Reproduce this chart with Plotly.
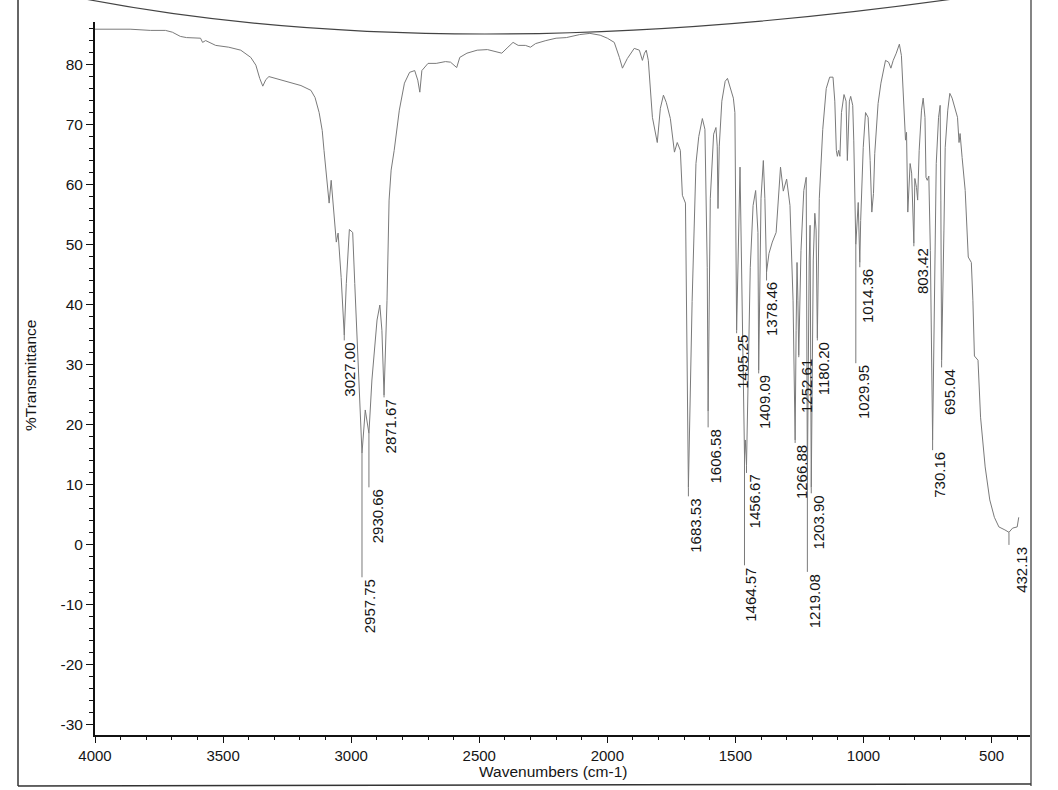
import plotly.graph_objects as go

# ---------------- data ----------------
wavenumber = [
    4000, 3863, 3784, 3725, 3698, 3667, 3643, 3608, 3588, 3580, 3568, 3529, 3478, 3431,
    3392, 3372, 3357, 3345, 3333, 3321, 3294, 3235, 3196, 3157, 3141, 3125, 3113, 3106,
    3086, 3078, 3066, 3058, 3051, 3039, 3027.00, 3019, 3007, 2994, 2986, 2970, 2957.75,
    2945, 2930.66, 2919, 2899, 2888, 2880, 2871.67, 2860, 2852, 2844, 2832, 2812, 2792,
    2772, 2752, 2740, 2732, 2724, 2700, 2668, 2632, 2612, 2588, 2576, 2548, 2508, 2468,
    2412, 2388, 2368, 2348, 2320, 2300, 2280, 2240, 2200, 2160, 2108, 2068, 2028, 2000,
    1973, 1953, 1941, 1922, 1895, 1875, 1863, 1855, 1848, 1840, 1824, 1805, 1793, 1781,
    1770, 1754, 1738, 1727, 1715, 1707, 1695, 1683.53, 1669, 1654, 1643, 1629, 1619,
    1610, 1606.58, 1598, 1585, 1576, 1571, 1568, 1563, 1553, 1540, 1531, 1521, 1508,
    1502, 1495.25, 1482, 1464.57, 1461.5, 1456.67, 1442, 1431, 1421, 1412, 1409.09,
    1400, 1391, 1385, 1378.46, 1369, 1356, 1341, 1324, 1313, 1300, 1287, 1275, 1266.88,
    1263, 1259.5, 1256, 1252.61, 1244, 1233, 1223.6, 1219.08, 1212, 1208.5, 1203.90,
    1196, 1190, 1185, 1180.20, 1172.5, 1159, 1145.5, 1132, 1119, 1112, 1106, 1102, 1097,
    1092, 1086, 1076, 1068, 1063, 1055, 1050, 1042, 1038, 1034, 1029.95, 1020.6, 1014.36,
    1011, 1001, 992, 982, 974, 967.5, 961, 956, 943, 932, 914, 902, 893, 884, 872, 860,
    852, 842, 836, 832, 827, 818, 812, 803.42, 799.5, 793, 788.5, 782.6, 773.5, 767, 760,
    756, 751, 745, 739, 730.16, 724, 716, 707, 700.7, 698, 695.04, 686, 681, 671, 663,
    654, 645, 633, 627, 623, 615, 603, 591, 579, 573, 567, 553, 543, 525, 507, 489,
    471.5, 448, 432.13, 418, 400, 394,
]
transmittance = [
    85.9, 85.9, 85.7, 85.7, 85.4, 84.7, 84.5, 84.5, 84.4, 83.7, 84.0, 83.2, 82.9, 82.4,
    81.2, 79.9, 77.7, 76.4, 77.5, 78.0, 77.7, 77.0, 76.5, 75.7, 74.5, 72.0, 69.0, 65.7,
    56.9, 60.7, 54.5, 50.4, 51.9, 44.5, 34.9, 43.5, 52.5, 52.0, 43.5, 26.9, 15.2,
    22.4, 18.5, 27.4, 37.4, 39.9, 35.7, 24.9, 40.7, 57.4, 62.4, 65.7, 72.4, 76.9,
    78.7, 79.0, 77.4, 75.4, 79.0, 80.2, 80.2, 80.5, 80.4, 79.5, 81.2, 81.9, 82.4, 82.5,
    81.9, 82.9, 83.7, 83.2, 83.2, 82.9, 83.5, 84.0, 84.4, 84.5, 85.0, 85.2, 84.9, 84.4,
    83.7, 81.2, 79.4, 81.0, 82.7, 82.4, 80.7, 81.9, 82.4, 80.7, 71.2, 67.0, 72.7, 74.9,
    73.7, 71.0, 65.4, 67.0, 65.7, 58.2, 56.9, 9.5, 40.5, 63.5, 68.0, 71.0, 69.2,
    46.2, 22.2, 57.7, 68.4, 69.5, 66.4, 56.0, 66.4, 73.9, 77.2, 77.7, 76.1, 74.4,
    72.0, 35.7, 62.9, 14.9, 17.4, 13.2, 46.2, 56.5, 59.0, 52.0, 29.0,
    57.7, 64.0, 57.7, 45.4, 48.5, 50.4, 52.0, 62.9, 58.9, 60.9, 56.5, 40.7, 17.4,
    35.7, 47.0, 40.7, 31.5, 49.0, 59.0, 61.2, 10.7, 47.4, 53.2, 9.5,
    47.4, 55.2, 52.4, 34.4, 57.7, 69.2, 76.0, 77.9, 77.9, 73.9, 65.7, 64.7, 65.7,
    64.7, 72.0, 75.0, 73.9, 64.0, 73.9, 74.7, 73.2, 67.4, 57.4, 50.0, 57.0, 47.0,
    54.0, 66.2, 72.0, 71.2, 64.0, 55.4, 58.5, 65.2, 73.5, 76.9, 80.7, 80.4, 79.4, 80.7, 81.9, 83.4,
    81.5, 71.9, 67.4, 68.7, 55.4, 63.5, 61.9, 50.2, 61.0, 59.5, 57.4, 65.7, 72.4, 74.4, 71.2,
    61.2, 60.7, 61.4, 49.0, 17.4, 40.7, 63.5, 71.2, 73.2, 57.4, 30.7, 52.4, 66.2, 72.4, 75.2,
    74.4, 73.2, 71.2, 67.0, 68.5, 64.5, 59.0, 47.9, 47.0, 40.7, 31.4, 30.7, 21.2, 12.9, 7.4, 4.5,
    2.9, 2.4, 2.0, 2.7, 2.9, 4.5,
]

peak_wn = [3027.00, 2957.75, 2930.66, 2871.67, 1683.53, 1606.58, 1495.25, 1464.57,
           1456.67, 1409.09, 1378.46, 1266.88, 1252.61, 1219.08, 1203.90, 1180.20,
           1029.95, 1014.36, 803.42, 730.16, 695.04, 432.13]
peak_labels = ["3027.00", "2957.75", "2930.66", "2871.67", "1683.53", "1606.58",
               "1495.25", "1464.57", "1456.67", "1409.09", "1378.46", "1266.88",
               "1252.61", "1219.08", "1203.90", "1180.20", "1029.95", "1014.36",
               "803.42", "730.16", "695.04", "432.13"]
# %T at which each label's upper end sits (label placement)
label_top = [34.0, -5.5, 9.5, 24.5, 8.0, 19.5, 35.2, -3.5, 11.9, 28.5, 44.0, 16.9,
             31.2, -4.6, 8.5, 34.0, 30.2, 46.2, 49.7, 15.7, 29.5, -0.1]
# horizontal pixel offset of each label from its leader line (label placement)
label_dx = [5, 7, 8, 6, 7, 7, 6, 6, 8, 6, 5, 7, 7, 8, 7, 7, 7, 7, 8, 7, 8, 13]

x_ticks = [4000, 3500, 3000, 2500, 2000, 1500, 1000, 500]
y_ticks = [80, 70, 60, 50, 40, 30, 20, 10, 0, -10, -20, -30]

# ---------------- layout constants ----------------
W, H = 1058, 790
L, R, T, B = 95, 1030, 22, 735
X_RANGE = [4000, 350]
Y_RANGE = [-31.8, 87.1]
FONT = "Liberation Sans, Arial, sans-serif"
LINE_GRAY = "#7a7a7a"
TEXT = "#151515"


def px(xp):
    return (xp - L) / (R - L)


def py(yp):
    return (B - yp) / (B - T)


def t_at(wn):
    for i in range(len(wavenumber) - 1):
        a, b = wavenumber[i], wavenumber[i + 1]
        if a >= wn >= b:
            f = 0 if a == b else (a - wn) / (a - b)
            return transmittance[i] + f * (transmittance[i + 1] - transmittance[i])
    return transmittance[-1]


fig = go.Figure()
fig.add_trace(go.Scatter(x=wavenumber, y=transmittance, mode="lines",
                         line=dict(color=LINE_GRAY, width=1), hoverinfo="skip",
                         showlegend=False))

# leader lines from peak tips down to labels
lx, ly = [], []
for wn, top in zip(peak_wn, label_top):
    tip = t_at(wn)
    if top < tip:
        lx += [wn, wn, None]
        ly += [tip, top, None]
fig.add_trace(go.Scatter(x=lx, y=ly, mode="lines", line=dict(color=LINE_GRAY, width=1),
                         hoverinfo="skip", showlegend=False))

annotations = []
for wn, lab, top, dx in zip(peak_wn, peak_labels, label_top, label_dx):
    annotations.append(dict(x=wn, y=top, xref="x", yref="y", text=lab, showarrow=False,
                            textangle=-90, xanchor="center", yanchor="top", xshift=dx,
                            font=dict(family=FONT, size=15, color=TEXT)))

annotations.append(dict(x=px(30), y=py(376), xref="paper", yref="paper",
                        text="%Transmittance", textangle=-90, showarrow=False,
                        xanchor="center", yanchor="middle",
                        font=dict(family=FONT, size=15.5, color=TEXT)))
annotations.append(dict(x=px(553), y=py(772), xref="paper", yref="paper",
                        text="Wavenumbers (cm-1)", showarrow=False,
                        xanchor="center", yanchor="middle",
                        font=dict(family=FONT, size=15.5, color=TEXT)))

shapes = [
    # outer page frame
    dict(type="line", xref="paper", yref="paper", x0=px(18), y0=py(0), x1=px(18), y1=py(786),
         line=dict(color="#333333", width=1.5)),
    dict(type="line", xref="paper", yref="paper", x0=px(18), y0=py(786), x1=px(1031), y1=py(784),
         line=dict(color="#333333", width=1.5)),
    dict(type="line", xref="paper", yref="paper", x0=px(1031), y0=py(0), x1=px(1031), y1=py(786),
         line=dict(color="#333333", width=1.2)),
    # curved paper edge at the top
    dict(type="path", xref="paper", yref="paper",
         path=f"M {px(80)},{py(-2)} Q {px(450)},{py(70)} {px(960)},{py(-2)}",
         line=dict(color="#444444", width=1.2)),
]

fig.update_layout(
    width=W, height=H,
    margin=dict(l=L, r=W - R, t=T, b=H - B),
    paper_bgcolor="white", plot_bgcolor="white",
    showlegend=False,
    annotations=annotations, shapes=shapes,
    font=dict(family=FONT, size=15.5, color=TEXT),
)
fig.update_xaxes(range=X_RANGE, tickvals=x_ticks, ticktext=[str(v) for v in x_ticks],
                 ticks="outside", ticklen=6, tickwidth=1, tickcolor="#111",
                 showline=True, linewidth=2, linecolor="#111", showgrid=False, zeroline=False,
                 minor=dict(ticks="outside", ticklen=3, tickwidth=1, tickcolor="#111", dtick=100,
                            tick0=0, showgrid=False),
                 tickfont=dict(family=FONT, size=15, color=TEXT))
fig.update_yaxes(range=Y_RANGE, tickvals=y_ticks, ticktext=[str(v) for v in y_ticks],
                 ticks="outside", ticklen=7, tickwidth=1,
                 tickcolor="#111", showline=True, linewidth=2, linecolor="#111",
                 showgrid=False, zeroline=False,
                 minor=dict(ticks="outside", ticklen=4, tickwidth=1, tickcolor="#111", dtick=2,
                            tick0=0, showgrid=False),
                 tickfont=dict(family=FONT, size=15.5, color=TEXT))

fig.write_html("out.html")
